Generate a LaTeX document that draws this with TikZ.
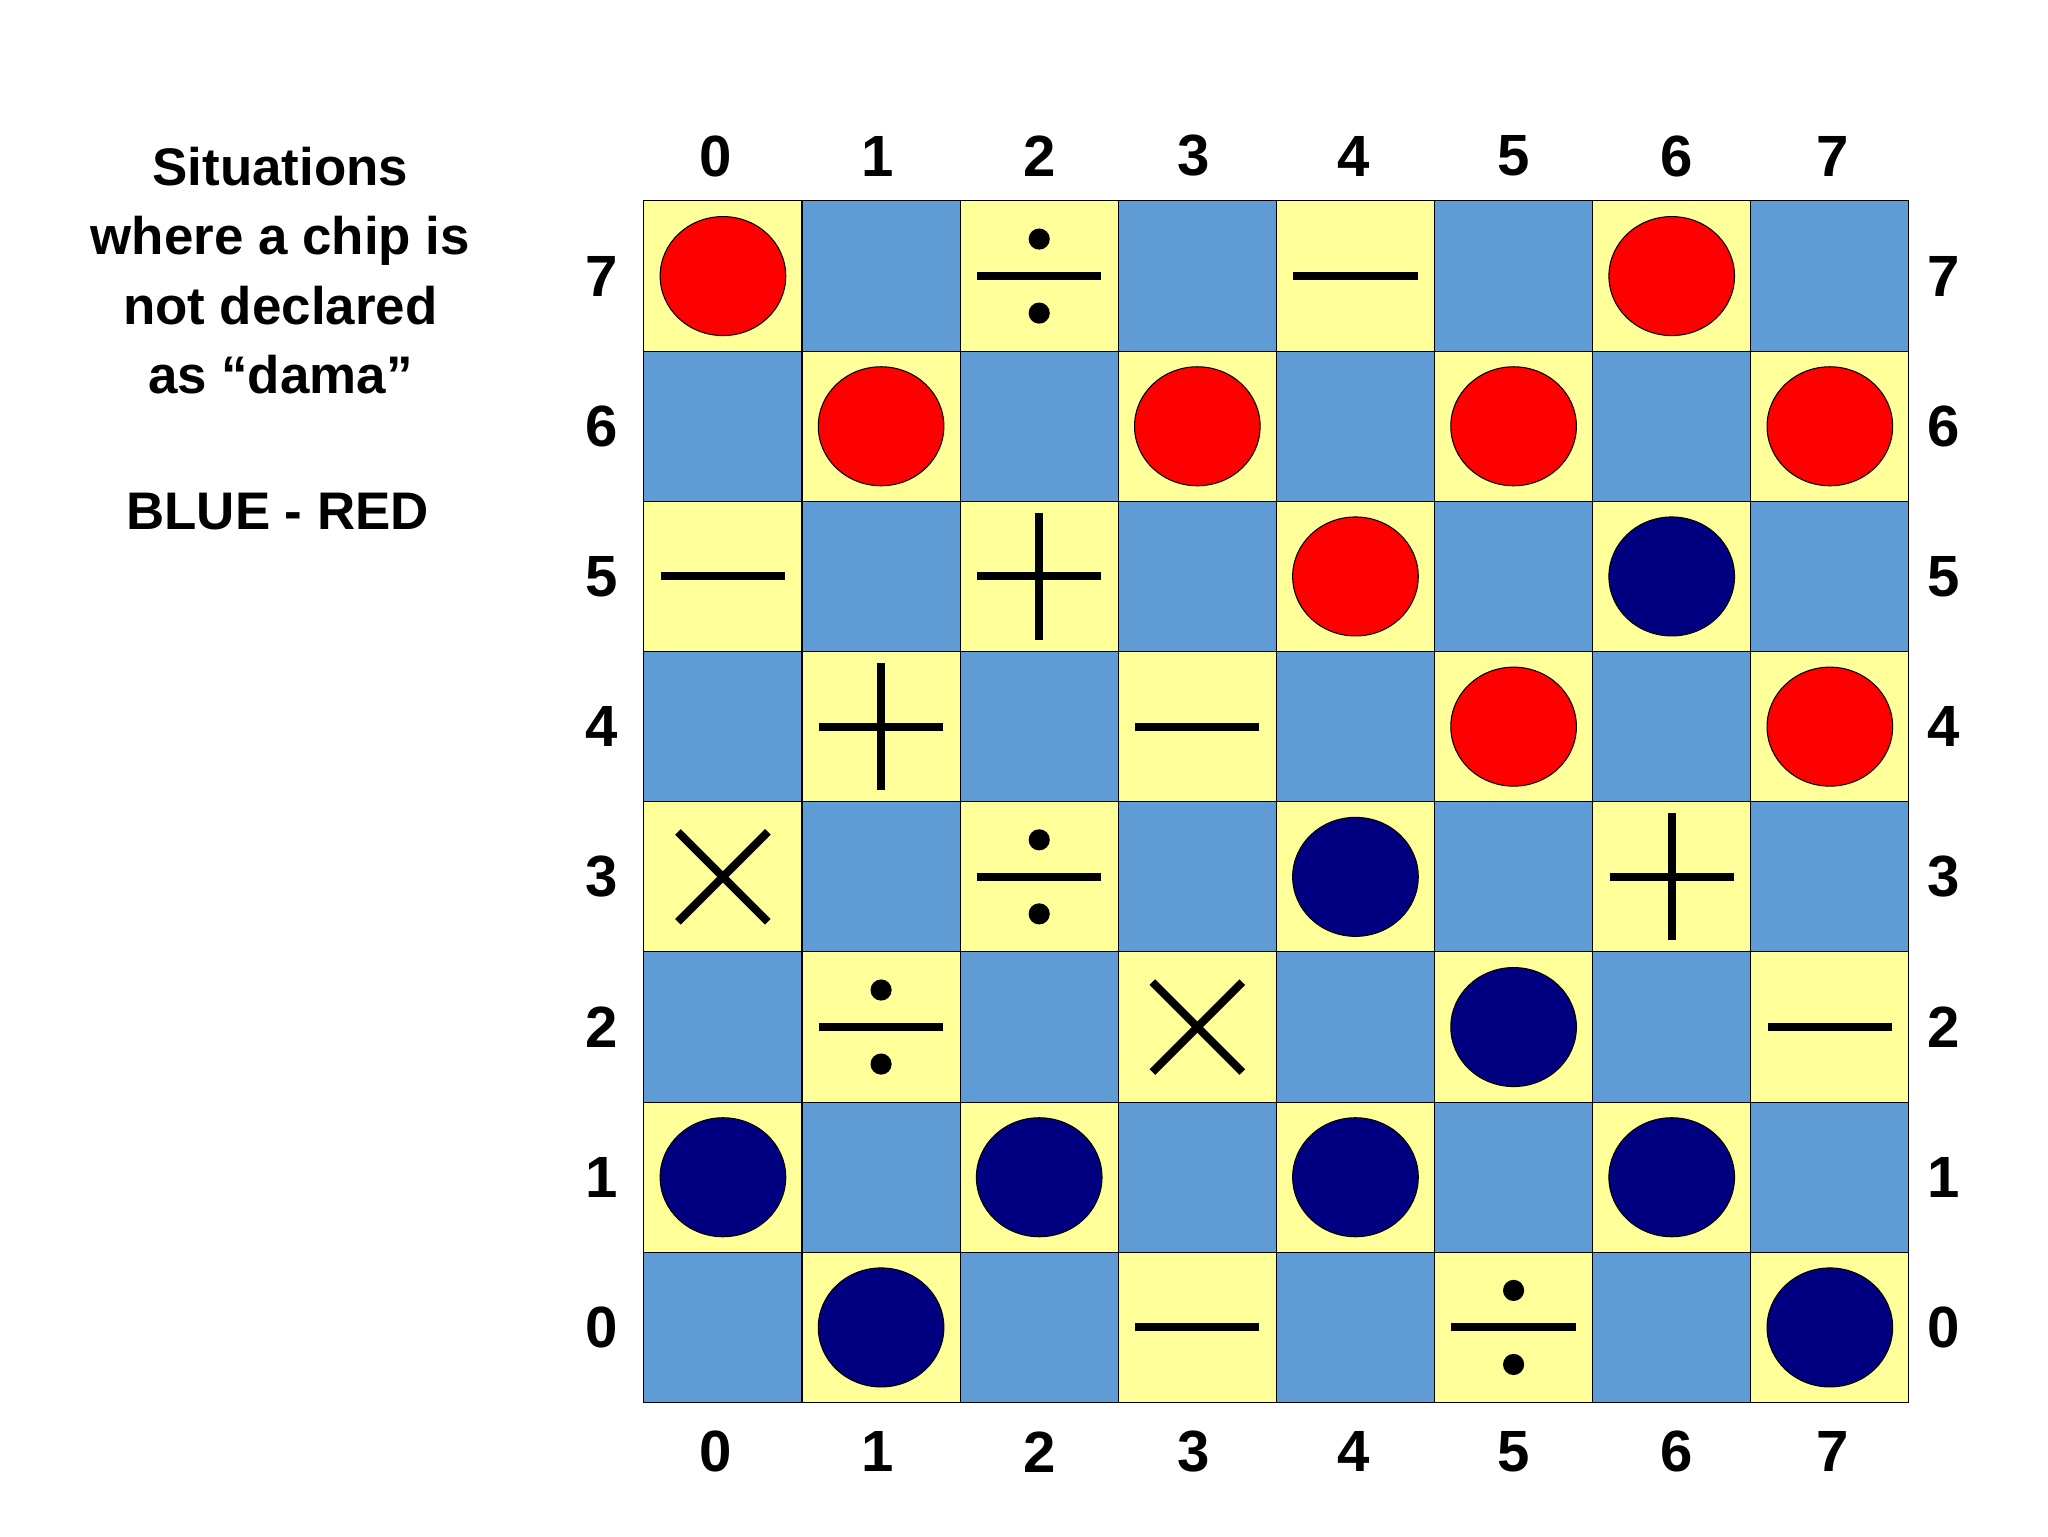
\documentclass[tikz,border=0pt]{standalone}
\usepackage{fontspec}
\setmainfont{Liberation Sans}
\usetikzlibrary{shapes.geometric}
\definecolor{ylw}{HTML}{FFFF99}
\definecolor{blu}{HTML}{5F9BD5}
\definecolor{rchip}{HTML}{FF0000}
\definecolor{bchip}{HTML}{000080}
\begin{document}
\begin{tikzpicture}[x=0.5pt,y=-0.5pt,
  lab/.style={font=\bfseries\fontsize{22}{26}\selectfont},
  sym/.style={line width=3pt},
  chipR/.style={ellipse,fill=rchip,draw=black,thin,minimum width=47.5pt,minimum height=45pt,inner sep=0},
  chipB/.style={ellipse,fill=bchip,draw=black,thin,minimum width=47.5pt,minimum height=45pt,inner sep=0}]
\path[use as bounding box] (0,0) rectangle (1549,1162);
\def\cw{119.6}\def\ch{113.6}
\foreach \r in {0,...,7}{\foreach \c in {0,...,7}{
  \pgfmathsetmacro\xa{487+\cw*\c}\pgfmathsetmacro\ya{152+(7-\r)*\ch}
  \pgfmathtruncatemacro\pty{mod(\r+\c,2)}
  \ifnum\pty=1 \def\fc{ylw}\else\def\fc{blu}\fi
  \draw[fill=\fc,thin] (\xa,\ya) rectangle ++(\cw,\ch);
  \coordinate (c\r\c) at (\xa+\cw/2,\ya+\ch/2);
}}
\foreach \c/\xx in {0/541,1/664,2/786,3/903,4/1024,5/1145,6/1268,7/1386}{
  \node[lab] (t\c) at (\xx,118) {\c};
  \node[lab] (b\c) at (\xx,1098) {\c};}
\foreach \r in {0,...,7}{
  \pgfmathsetmacro\yy{152+(7.5-\r)*\ch}
  \node[lab] (l\r) at (455,\yy) {\r};
  \node[lab] (rr\r) at (1470,\yy) {\r};}
% symbols
\foreach \p in {74,50,43,27,03}{\draw[sym] ([xshift=-23.5pt]c\p) -- ([xshift=23.5pt]c\p);}
\foreach \p in {52,41,36}{\draw[sym] ([xshift=-23.5pt]c\p) -- ([xshift=23.5pt]c\p);
  \draw[sym] ([yshift=-24pt]c\p) -- ([yshift=24pt]c\p);}
\foreach \p in {30,23}{\draw[sym] ([shift={(-17pt,-17pt)}]c\p) -- ([shift={(17pt,17pt)}]c\p);
  \draw[sym] ([shift={(-17pt,17pt)}]c\p) -- ([shift={(17pt,-17pt)}]c\p);}
\foreach \p in {72,32,21,05}{\draw[sym] ([xshift=-23.5pt]c\p) -- ([xshift=23.5pt]c\p);
  \fill ([yshift=-14pt]c\p) circle (4pt); \fill ([yshift=14pt]c\p) circle (4pt);}
% chips
\foreach \p in {70,76,61,63,65,67,54,45,47}{\node[chipR] (r\p) at (c\p) {};}
\foreach \p in {56,34,25,10,12,14,16,01,07}{\node[chipB] (k\p) at (c\p) {};}
\node[font=\bfseries\fontsize{20}{26.3}\selectfont,align=center,anchor=north] (title) at (212,104)
 {Situations\\where a chip is\\not declared\\as “dama”};
\node[font=\bfseries\fontsize{20}{24}\selectfont] (br) at (210,387) {BLUE - RED};
\end{tikzpicture}
\end{document}
